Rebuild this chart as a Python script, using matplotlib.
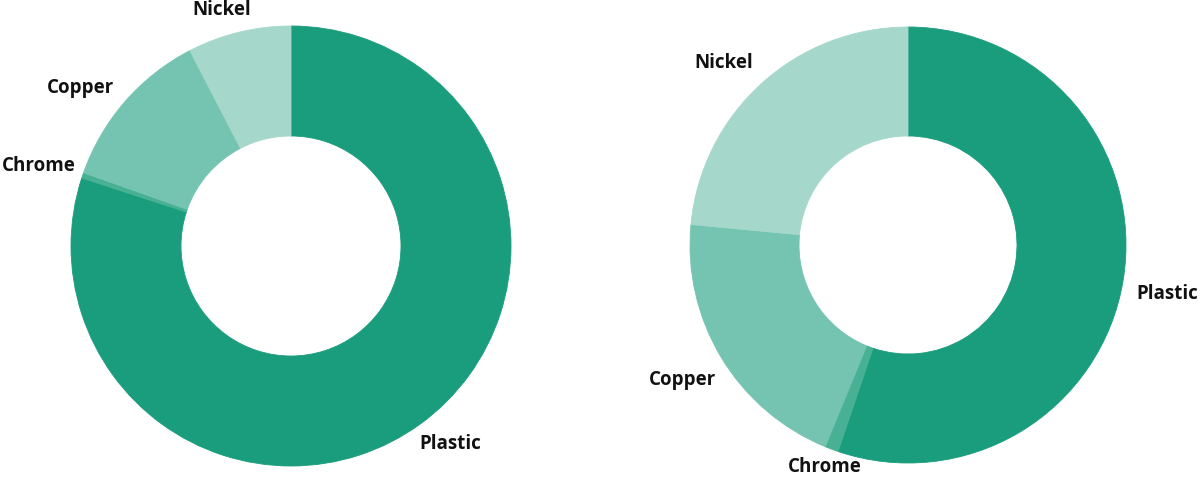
import matplotlib
matplotlib.use("Agg")
import matplotlib.pyplot as plt

# data (shares, %)
categories = ["Plastic", "Chrome", "Copper", "Nickel"]
left_values = [80.0, 0.4, 12.0, 7.6]
right_values = [55.2, 1.0, 20.3, 23.5]

COLORS = ["#1a9d7c", "#48b193", "#75c4b2", "#a5d8cb"]

# label anchors in pixel coords (x, y from top)
left_lbl = {"Plastic": (450, 444), "Chrome": (39, 166), "Copper": (80, 88), "Nickel": (222, 10)}
right_lbl = {"Plastic": (1167, 294), "Chrome": (825, 467), "Copper": (682, 380), "Nickel": (724, 63)}

W, H = 1200, 478
fig = plt.figure(figsize=(W / 100, H / 100), dpi=100)
ax = fig.add_axes([0, 0, 1, 1])

def donut(vals, cx, cy, r, lbl):
    wedges, _ = ax.pie(vals, colors=COLORS, startangle=90, counterclock=False,
                       center=(cx, H - cy), radius=r,
                       wedgeprops=dict(width=r * 0.5, linewidth=0.6))
    for w in wedges:
        w.set_edgecolor(w.get_facecolor())
    for name in categories:
        x, y = lbl[name]
        ax.text(x, H - y, name, ha="center", va="center", fontsize=13.5,
                fontweight="bold", family="Open Sans", color="#111111")

donut(left_values, 291, 246, 220, left_lbl)
donut(right_values, 908, 245, 218, right_lbl)
ax.set_xlim(0, W); ax.set_ylim(0, H)
ax.set_aspect("equal"); ax.axis("off")

fig.savefig("out.png", dpi=100)
